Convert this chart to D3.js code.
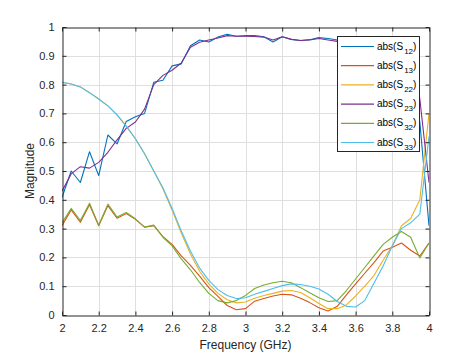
<!DOCTYPE html>
<html>
<head>
<meta charset="utf-8">
<script src="https://cdn.jsdelivr.net/npm/d3@7"></script>
<style>
  html, body { margin: 0; padding: 0; background: #fff; }
  svg { display: block; font-family: "Liberation Sans", Arial, Helvetica, sans-serif; }
</style>
</head>
<body>
<svg id="chart" width="474" height="355"></svg>
<script>
// ---------- data ----------
const freq = [2.00, 2.05, 2.10, 2.15, 2.20, 2.25, 2.30, 2.35, 2.40, 2.45,
              2.50, 2.55, 2.60, 2.65, 2.70, 2.75, 2.80, 2.85, 2.90, 2.95,
              3.00, 3.05, 3.10, 3.15, 3.20, 3.25, 3.30, 3.35, 3.40, 3.45,
              3.50, 3.55, 3.60, 3.65, 3.70, 3.75, 3.80, 3.85, 3.90, 3.95, 4.00];

const S12 = [0.408, 0.500, 0.460, 0.567, 0.484, 0.625, 0.594, 0.672, 0.688, 0.700,
             0.808, 0.815, 0.865, 0.872, 0.935, 0.955, 0.948, 0.965, 0.975, 0.968,
             0.970, 0.970, 0.966, 0.948, 0.966, 0.957, 0.953, 0.956, 0.963, 0.960,
             0.955, 0.955, 0.955, 0.950, 0.945, 0.940, 0.930, 0.910, 0.860, 0.670, 0.310];

const S13 = [0.310, 0.365, 0.322, 0.383, 0.310, 0.380, 0.336, 0.352, 0.332, 0.305,
             0.310, 0.272, 0.245, 0.205, 0.172, 0.135, 0.095, 0.065, 0.033, 0.018,
             0.022, 0.048, 0.057, 0.066, 0.072, 0.070, 0.058, 0.043, 0.025, 0.014,
             0.030, 0.070, 0.108, 0.145, 0.182, 0.222, 0.235, 0.250, 0.225, 0.205, 0.250];

const S22 = [0.808, 0.802, 0.792, 0.772, 0.750, 0.726, 0.695, 0.656, 0.612, 0.560,
             0.500, 0.438, 0.364, 0.285, 0.212, 0.152, 0.108, 0.075, 0.053, 0.042,
             0.045, 0.058, 0.068, 0.075, 0.083, 0.085, 0.078, 0.060, 0.040, 0.022,
             0.022, 0.035, 0.066, 0.100, 0.137, 0.190, 0.240, 0.310, 0.335, 0.400, 0.700];

const S23 = [0.430, 0.490, 0.515, 0.510, 0.530, 0.565, 0.608, 0.648, 0.670, 0.715,
             0.800, 0.832, 0.850, 0.875, 0.930, 0.947, 0.955, 0.962, 0.970, 0.968,
             0.968, 0.967, 0.965, 0.955, 0.966, 0.957, 0.953, 0.955, 0.960, 0.955,
             0.950, 0.950, 0.950, 0.948, 0.945, 0.940, 0.930, 0.915, 0.880, 0.750, 0.460];

const S32 = [0.320, 0.370, 0.328, 0.388, 0.312, 0.385, 0.340, 0.356, 0.334, 0.305,
             0.312, 0.270, 0.240, 0.195, 0.157, 0.113, 0.075, 0.050, 0.042, 0.050,
             0.068, 0.092, 0.104, 0.112, 0.117, 0.112, 0.095, 0.077, 0.060, 0.047,
             0.050, 0.085, 0.125, 0.165, 0.205, 0.245, 0.270, 0.290, 0.270, 0.198, 0.250];

const S33 = [0.808, 0.802, 0.792, 0.772, 0.750, 0.726, 0.695, 0.656, 0.612, 0.560,
             0.500, 0.442, 0.370, 0.292, 0.222, 0.163, 0.120, 0.088, 0.068, 0.057,
             0.060, 0.072, 0.082, 0.092, 0.102, 0.108, 0.106, 0.100, 0.090, 0.072,
             0.047, 0.030, 0.028, 0.050, 0.110, 0.170, 0.240, 0.300, 0.320, 0.350, 0.620];

const seriesNames = ["12", "13", "22", "23", "32", "33"];
const seriesValues = [S12, S13, S22, S23, S32, S33];
const seriesColors = ["#0072BD", "#D95319", "#EDB120", "#7E2F8E", "#77AC30", "#4DBEEE"];

const xTicks = [2, 2.2, 2.4, 2.6, 2.8, 3, 3.2, 3.4, 3.6, 3.8, 4];
const yTicks = [0, 0.1, 0.2, 0.3, 0.4, 0.5, 0.6, 0.7, 0.8, 0.9, 1];

// ---------- layout ----------
const L = 62, R = 429, T = 27, B = 315;
const axisColor = "#262626";
const gridColor = "#dfdfdf";

const svg = d3.select("#chart");
const x = d3.scaleLinear().domain([2, 4]).range([L, R]);
const y = d3.scaleLinear().domain([0, 1]).range([B, T]);

svg.append("rect").attr("width", 474).attr("height", 355).attr("fill", "#fff");

// grid
const grid = svg.append("g");
grid.selectAll("line.gx").data(xTicks.slice(1, -1)).enter().append("line")
  .attr("x1", d => Math.round(x(d)) + 0.5).attr("x2", d => Math.round(x(d)) + 0.5)
  .attr("y1", T).attr("y2", B)
  .attr("stroke", gridColor).attr("stroke-width", 1);
grid.selectAll("line.gy").data(yTicks.slice(1, -1)).enter().append("line")
  .attr("y1", d => Math.round(y(d)) + 0.5).attr("y2", d => Math.round(y(d)) + 0.5)
  .attr("x1", L).attr("x2", R)
  .attr("stroke", gridColor).attr("stroke-width", 1);

// clip
svg.append("clipPath").attr("id", "clip").append("rect")
  .attr("x", L).attr("y", T).attr("width", R - L).attr("height", B - T);

// lines
const lineGen = d3.line().x((d, i) => x(freq[i])).y(d => y(d));
const lines = svg.append("g").attr("clip-path", "url(#clip)");
seriesValues.forEach((vals, k) => {
  lines.append("path").datum(vals)
    .attr("d", lineGen)
    .attr("fill", "none")
    .attr("stroke", seriesColors[k])
    .attr("stroke-width", 1.1)
    .attr("stroke-linejoin", "round");
});

// axes (MATLAB style box with inward ticks)
const fmt = d => String(+d.toFixed(1));
const xAxisB = d3.axisBottom(x).tickValues(xTicks).tickSizeInner(-4).tickSizeOuter(0).tickPadding(9).tickFormat(fmt);
const xAxisT = d3.axisTop(x).tickValues(xTicks).tickSizeInner(-4).tickSizeOuter(0).tickFormat("");
const yAxisL = d3.axisLeft(y).tickValues(yTicks).tickSizeInner(-4).tickSizeOuter(0).tickPadding(8).tickFormat(fmt);
const yAxisR = d3.axisRight(y).tickValues(yTicks).tickSizeInner(-4).tickSizeOuter(0).tickFormat("");

function styleAxis(g) {
  g.select(".domain").attr("stroke", axisColor).attr("stroke-width", 1);
  g.selectAll(".tick line").attr("stroke", axisColor).attr("stroke-width", 1);
  g.selectAll(".tick text").attr("fill", axisColor).attr("font-size", 11)
    .attr("font-family", "'Liberation Sans', Arial, sans-serif");
}
svg.append("g").attr("transform", `translate(0,${B + 0.5})`).call(xAxisB).call(styleAxis);
svg.append("g").attr("transform", `translate(0,${T + 0.5})`).call(xAxisT).call(styleAxis);
svg.append("g").attr("transform", `translate(${L + 0.5},0)`).call(yAxisL).call(styleAxis);
svg.append("g").attr("transform", `translate(${R + 0.5},0)`).call(yAxisR).call(styleAxis);

// axis labels
svg.append("text").attr("x", (L + R) / 2).attr("y", 348.5)
  .attr("text-anchor", "middle").attr("font-size", 12).attr("fill", axisColor)
  .text("Frequency (GHz)");
svg.append("text").attr("transform", `translate(33.5,${(T + B) / 2}) rotate(-90)`)
  .attr("text-anchor", "middle").attr("font-size", 12).attr("fill", axisColor)
  .text("Magnitude");

// legend
const lg = svg.append("g");
const lx = 337, ly = 36, lw = 82, lh = 115;
lg.append("rect").attr("x", lx + 0.5).attr("y", ly + 0.5).attr("width", lw).attr("height", lh)
  .attr("fill", "#fff").attr("stroke", axisColor).attr("stroke-width", 1);
const rowY = d3.scaleLinear().domain([0, 5]).range([ly + 10.5, ly + 106.5]);
seriesNames.forEach((nm, k) => {
  const yy = rowY(k);
  lg.append("line").attr("x1", lx + 4).attr("x2", lx + 37)
    .attr("y1", yy).attr("y2", yy)
    .attr("stroke", seriesColors[k]).attr("stroke-width", 1.2);
  const t = lg.append("text").attr("x", lx + 40).attr("y", yy + 3)
    .attr("font-size", 10).attr("fill", "#000");
  t.append("tspan").text("abs(S");
  t.append("tspan").attr("dy", 4).attr("dx", 1).attr("font-size", 8).text(nm);
  t.append("tspan").attr("dy", -4).text(")");
});
</script>
</body>
</html>
